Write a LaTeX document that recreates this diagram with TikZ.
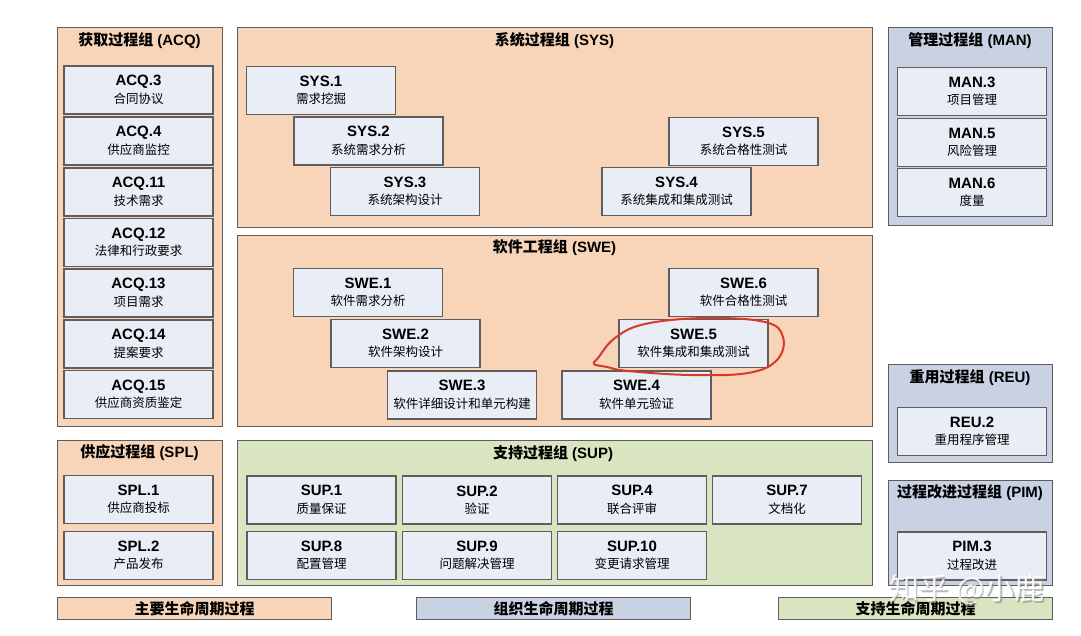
\documentclass[tikz,border=0pt]{standalone}
\usepackage{fontspec}
\setmainfont{Liberation Sans}
\newfontfamily\cjk{Noto Sans CJK SC}
\usetikzlibrary{calc}
\definecolor{orgfill}{HTML}{F8D5B8}
\definecolor{bluefill}{HTML}{C8D2E2}
\definecolor{greenfill}{HTML}{D9E4C0}
\definecolor{boxfill}{HTML}{E9EDF6}
\definecolor{edge}{HTML}{5E5E5E}
\definecolor{annot}{HTML}{D63A2A}
\newcommand\pb[2]{{\bfseries #1}\\{\cjk\fontsize{12.5}{18}\selectfont #2}}
\newcommand\gt[2]{{\cjk\bfseries #1} \textbf{(#2)}}
\begin{document}
\begin{tikzpicture}[x=1pt,y=-1pt,
  grp/.style={draw=edge, line width=1.3pt, anchor=north west, inner sep=0pt},
  pbox/.style={draw=edge, line width=1.3pt, fill=boxfill, minimum width=149pt, minimum height=48pt, inner sep=0pt, align=center, font=\fontsize{15}{17.5}\selectfont},
  gtitle/.style={font=\fontsize{15}{17}\selectfont, inner sep=0pt},
  legend/.style={draw=edge, line width=1.3pt, anchor=north west, minimum width=274pt, minimum height=22pt, inner sep=0pt, font=\fontsize{15}{17}\selectfont}
]
\useasboundingbox[fill=white] (0,0) rectangle (1081,636);
% groups
\node[grp, fill=orgfill, minimum width=165pt, minimum height=399pt] (acq) at (57,27) {};
\node[grp, fill=orgfill, minimum width=635pt, minimum height=200pt] (sys) at (237,27) {};
\node[grp, fill=orgfill, minimum width=635pt, minimum height=191pt] (swe) at (237,235) {};
\node[grp, fill=orgfill, minimum width=165pt, minimum height=145pt] (spl) at (57,440) {};
\node[grp, fill=greenfill, minimum width=635pt, minimum height=145pt] (sup) at (237,440) {};
\node[grp, fill=bluefill, minimum width=164pt, minimum height=198pt] (man) at (888,27) {};
\node[grp, fill=bluefill, minimum width=164pt, minimum height=98pt] (reu) at (888,364) {};
\node[grp, fill=bluefill, minimum width=164pt, minimum height=105pt] (pim) at (888,480) {};
% titles
\node[gtitle] (acqt) at (139.5,41) {\gt{获取过程组}{ACQ}};
\node[gtitle] (syst) at (554.5,41) {\gt{系统过程组}{SYS}};
\node[gtitle] (swet) at (554.5,248) {\gt{软件工程组}{SWE}};
\node[gtitle] (splt) at (139.5,453) {\gt{供应过程组}{SPL}};
\node[gtitle] (supt) at (553,454) {\gt{支持过程组}{SUP}};
\node[gtitle] (mant) at (970,41) {\gt{管理过程组}{MAN}};
\node[gtitle] (reut) at (970,378) {\gt{重用过程组}{REU}};
\node[gtitle] (pimt) at (970,493) {\gt{过程改进过程组}{PIM}};
% ACQ
\node[pbox] (acq3) at (138.5,90) {\pb{ACQ.3}{合同协议}};
\node[pbox] (acq4) at (138.5,141) {\pb{ACQ.4}{供应商监控}};
\node[pbox] (acq11) at (138.5,192) {\pb{ACQ.11}{技术需求}};
\node[pbox] (acq12) at (138.5,242.5) {\pb{ACQ.12}{法律和行政要求}};
\node[pbox] (acq13) at (138.5,293) {\pb{ACQ.13}{项目需求}};
\node[pbox] (acq14) at (138.5,344) {\pb{ACQ.14}{提案要求}};
\node[pbox] (acq15) at (138.5,394.5) {\pb{ACQ.15}{供应商资质鉴定}};
% SYS
\node[pbox] (sys1) at (321,90.5) {\pb{SYS.1}{需求挖掘}};
\node[pbox] (sys2) at (368.5,141) {\pb{SYS.2}{系统需求分析}};
\node[pbox] (sys3) at (405,191.5) {\pb{SYS.3}{系统架构设计}};
\node[pbox] (sys5) at (743.5,141.5) {\pb{SYS.5}{系统合格性测试}};
\node[pbox] (sys4) at (676.5,191.5) {\pb{SYS.4}{系统集成和集成测试}};
% SWE
\node[pbox] (swe1) at (368,292.5) {\pb{SWE.1}{软件需求分析}};
\node[pbox] (swe2) at (405.5,343.5) {\pb{SWE.2}{软件架构设计}};
\node[pbox] (swe3) at (462,395) {\pb{SWE.3}{软件详细设计和单元构建}};
\node[pbox] (swe4) at (636.5,395) {\pb{SWE.4}{软件单元验证}};
\node[pbox] (swe5) at (693.5,343.5) {\pb{SWE.5}{软件集成和集成测试}};
\node[pbox] (swe6) at (743.5,292.5) {\pb{SWE.6}{软件合格性测试}};
% SPL
\node[pbox] (spl1) at (138.5,499.5) {\pb{SPL.1}{供应商投标}};
\node[pbox] (spl2) at (138.5,555.5) {\pb{SPL.2}{产品发布}};
% SUP
\node[pbox] (sup1) at (321.5,500) {\pb{SUP.1}{质量保证}};
\node[pbox] (sup2) at (477,500) {\pb{SUP.2}{验证}};
\node[pbox] (sup4) at (632,500) {\pb{SUP.4}{联合评审}};
\node[pbox] (sup7) at (787,500) {\pb{SUP.7}{文档化}};
\node[pbox] (sup8) at (321.5,555.5) {\pb{SUP.8}{配置管理}};
\node[pbox] (sup9) at (477,555.5) {\pb{SUP.9}{问题解决管理}};
\node[pbox] (sup10) at (632,555.5) {\pb{SUP.10}{变更请求管理}};
% MAN
\node[pbox] (man3) at (972,91.5) {\pb{MAN.3}{项目管理}};
\node[pbox] (man5) at (972,142.5) {\pb{MAN.5}{风险管理}};
\node[pbox] (man6) at (972,192.5) {\pb{MAN.6}{度量}};
\node[pbox] (reu2) at (972,431.5) {\pb{REU.2}{重用程序管理}};
\node[pbox] (pim3) at (972,556) {\pb{PIM.3}{过程改进}};
% legends
\node[legend, fill=orgfill] (lg1) at (57,597) {\cjk\bfseries 主要生命周期过程};
\node[legend, fill=bluefill] (lg2) at (416,597) {\cjk\bfseries 组织生命周期过程};
\node[legend, fill=greenfill] (lg3) at (778,597) {\cjk\bfseries 支持生命周期过程};
% annotation
\draw[annot, line width=2pt, line join=round] plot[smooth cycle, tension=0.65] coordinates {(598,358) (615,338) (645,324) (705,318) (765,322) (783,337) (777,360) (748,373) (690,375) (628,371) (607,367) (594,364)};
% watermark
\node[font=\fontsize{30}{33}\selectfont, text=black!45, opacity=0.6, inner sep=0pt] (wms) at (968.5,591) {\cjk 知乎 @小鹿};
\node[font=\fontsize{30}{33}\selectfont, text=white, opacity=0.9, inner sep=0pt] (wm) at (967,589.5) {\cjk 知乎 @小鹿};
\end{tikzpicture}
\end{document}
